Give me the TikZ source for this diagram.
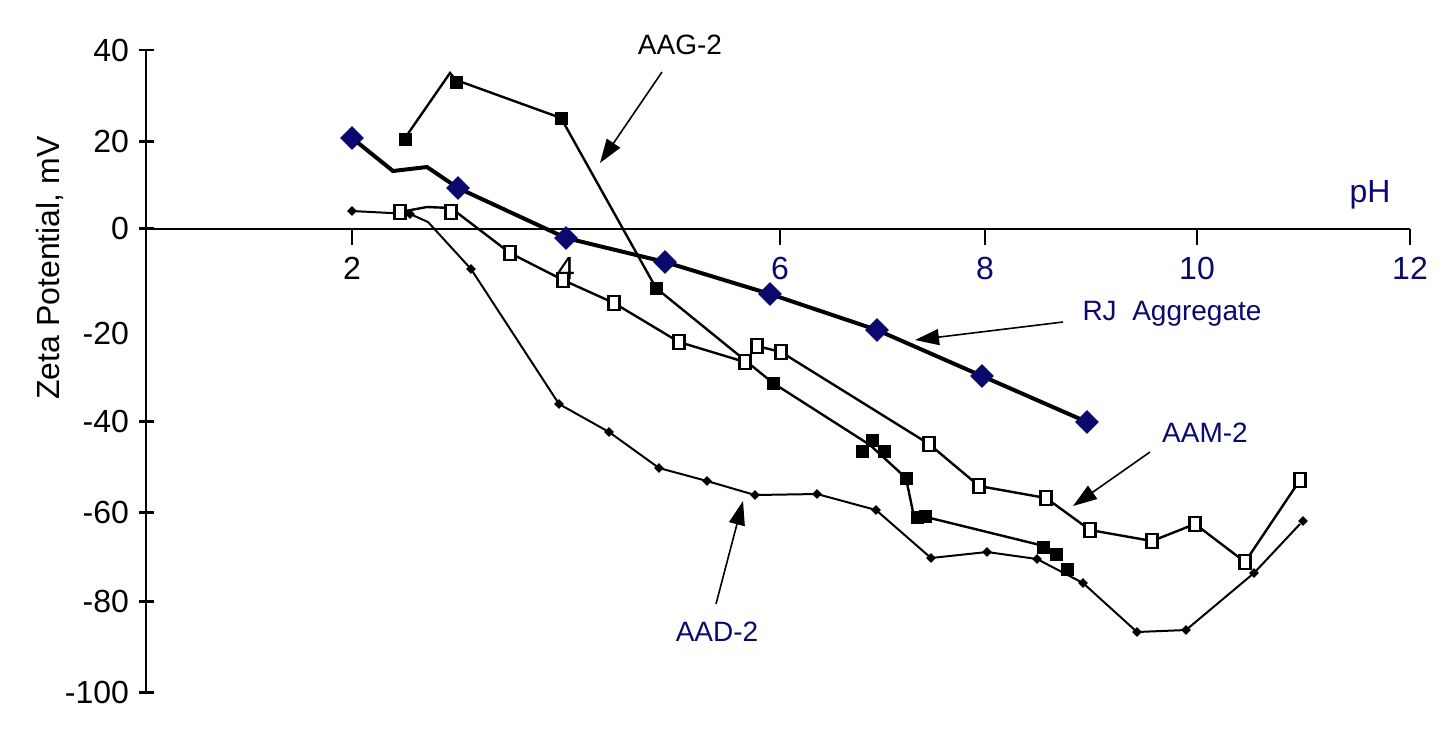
\documentclass[tikz,border=0pt]{standalone}
\usepackage{fontspec}
\setmainfont{Liberation Sans}
\usetikzlibrary{arrows.meta,shapes.geometric}
\definecolor{navy}{RGB}{10,10,110}
\begin{document}
\begin{tikzpicture}[x=0.5pt,y=-0.5pt,
  axis/.style={line width=1.4pt},
  rj/.style={line width=2pt},
  ser/.style={line width=1.2pt},
  thin/.style={line width=1pt},
  dia/.style={diamond,fill=navy,inner sep=0pt,minimum size=12pt},
  fsq/.style={rectangle,fill=black,inner sep=0pt,minimum size=6.5pt},
  osq/.style={rectangle,draw=black,fill=white,line width=1.2pt,inner sep=0pt,minimum width=5.5pt,minimum height=7pt},
  sdia/.style={diamond,fill=black,inner sep=0pt,minimum size=5pt},
  tick/.style={font=\fontsize{16}{18}\selectfont},
  lab/.style={font=\fontsize{14}{16}\selectfont,text=navy},
  arr/.style={line width=0.8pt,-{Triangle[length=12pt,width=8pt]}}]
\useasboundingbox (0,0) rectangle (1444,746);
% axes
\draw[axis] (146,50) -- (146,692);
\draw[axis] (146,229) -- (1410,229);
\foreach \y/\t in {50/40,141.7/20,228.7/0,421.7/-40,512.7/-60,601.7/-80,692.3/-100}
  {\draw[axis] (139,\y) -- (154,\y); \node[tick,anchor=east] at (136,\y) {\t};}
\node[tick,anchor=east] at (136,333) {-20};
\foreach \x/\t/\c in {352/2/black,566/4/black,780/6/navy,985/8/navy,1197/10/navy,1410/12/navy}
  {\draw[axis] (\x,229) -- (\x,245); \node[tick,text=\c] at (\x,268) {\t};}
\node[tick,text=navy] at (1370,195) {pH};
\node[tick,rotate=90] at (50,268) {Zeta Potential, mV};
% AAD-2
\draw[thin] (352,211)--(410,214)--(428,222)--(471,269)--(559,404)--(609,432)--(659,468)--(707,481)--(755,495)--(817,494)--(876,510)--(931,558)--(987,552)--(1037,559)--(1083,583)--(1137,632)--(1186,630)--(1254,573)--(1300,524);
\foreach \p in {(352,211),(410,214),(471,269),(559,404),(609,432),(659,468),(707,481),(755,495),(817,494),(876,510),(931,558),(987,552),(1037,559),(1083,583),(1137,632),(1186,630),(1254,573),(1303,521)}
  \node[sdia] at \p {};
% AAG-2
\draw[ser] (405,138)--(450,73)--(456,80)--(561,118)--(656,288)--(773,383)--(870,445)--(906,478)--(913,512)--(922,516)--(1040,545);
\foreach \p in {(405,139),(456,82),(561,118),(656,288),(773,383),(872,440),(862,451),(884,451),(906,478),(917,517),(925,516),(1043,547),(1056,554),(1067,569)}
  \node[fsq] at \p {};
% AAM-2
\draw[ser] (400,212)--(427,207)--(451,208)--(510,253)--(563,280)--(614,303)--(679,342)--(745,362)--(757,346)--(781,352)--(929,444)--(979,486)--(1046,498)--(1090,530)--(1152,541)--(1195,524)--(1245,562)--(1300,480);
\foreach \p in {(400,212),(451,212),(510,253),(563,280),(614,303),(679,342),(745,362),(757,346),(781,352),(929,444),(979,486),(1046,498),(1090,530),(1152,541),(1195,524),(1245,562),(1300,480)}
  \node[osq] at \p {};
% RJ Aggregate
\draw[rj] (352,138)--(393,171)--(427,167)--(458,188)--(566,238)--(665,262)--(770,294)--(877,330)--(982,376)--(1087,422);
\foreach \p in {(352,138),(458,188),(566,238),(665,262),(770,294),(877,330),(982,376),(1087,422)}
  \node[dia] at \p {};
% annotations
\node[font=\fontsize{14}{16}\selectfont] (lg) at (680,45) {AAG-2};
\coordinate (g1) at (662,72); \coordinate (g2) at (600,163);
\draw[arr] (g1) -- (g2);
\node[lab] (lr) at (1172,314) {RJ\ \ Aggregate};
\coordinate (r1) at (1063,322); \coordinate (r2) at (915,340);
\draw[arr] (r1) -- (r2);
\node[lab] (lm) at (1205,433) {AAM-2};
\coordinate (m1) at (1150,452); \coordinate (m2) at (1073,506);
\draw[arr] (m1) -- (m2);
\node[lab] (ld) at (717,632) {AAD-2};
\coordinate (d1) at (716,604); \coordinate (d2) at (743,501);
\draw[arr] (d1) -- (d2);
\end{tikzpicture}
\end{document}
